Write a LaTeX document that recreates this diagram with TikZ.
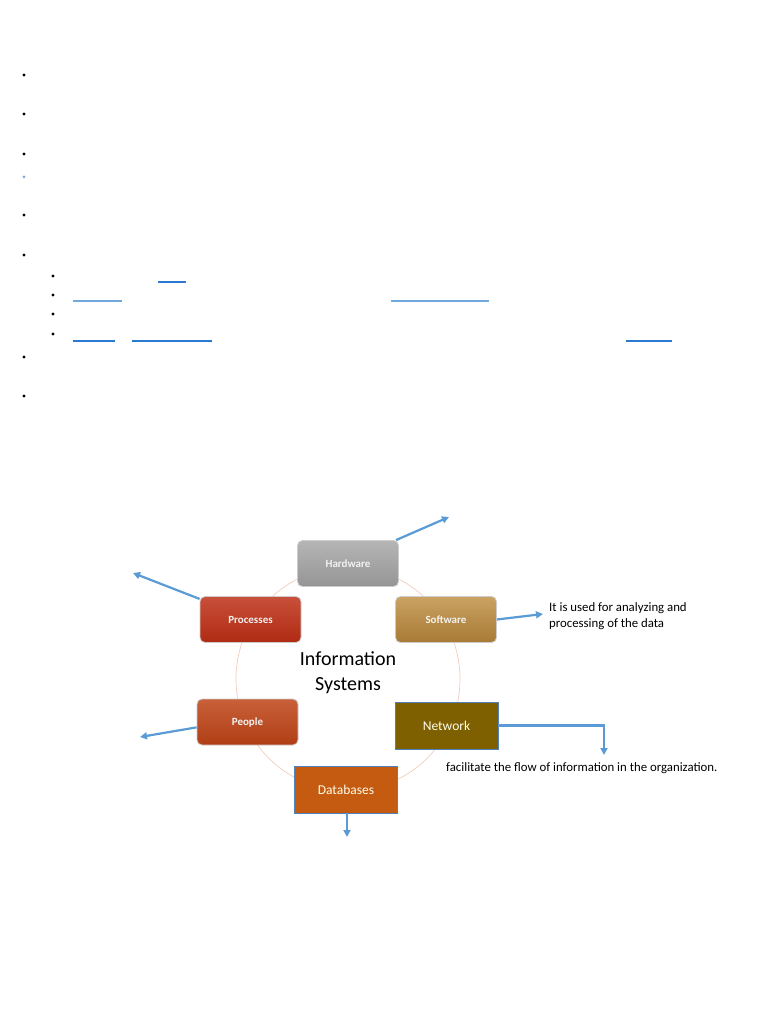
\documentclass[tikz,border=0pt]{standalone}
\usepackage{fontspec}
\setmainfont{Carlito}
\usepackage{xcolor}
\usepackage{tikz}
\usetikzlibrary{arrows.meta}
\definecolor{ArrowBlue}{HTML}{5B9BD5}
\definecolor{LinkDark}{HTML}{2A7AD2}
\definecolor{LinkLight}{HTML}{6FA8DC}
\definecolor{RingPink}{HTML}{F2CDBD}
\definecolor{NetBrown}{HTML}{7F6000}
\definecolor{DbOrange}{HTML}{C55A11}
\definecolor{EdgeBlue}{HTML}{4F81BD}
\definecolor{HwTop}{HTML}{B5B5B5}
\definecolor{HwBot}{HTML}{959595}
\definecolor{PrTop}{HTML}{C8503A}
\definecolor{PrBot}{HTML}{B02A12}
\definecolor{SwTop}{HTML}{CAA262}
\definecolor{SwBot}{HTML}{A87A34}
\definecolor{PeTop}{HTML}{C8603A}
\definecolor{PeBot}{HTML}{B03E14}

\begin{document}
\begin{tikzpicture}[
  x = 1pt, y = -1pt,
  part/.style = {
      rounded corners = 5pt, minimum width = 101pt, minimum height = 46pt,
      draw = white!80!black, line width = .8pt, text = white!95!black,
      font = \fontsize{11}{13}\selectfont\bfseries, inner sep = 0pt
  },
  flat part/.style = {
      draw = EdgeBlue, line width = .8pt, minimum width = 103pt,
      minimum height = 47pt, text = white!92!yellow,
      font = \fontsize{13.5}{16}\selectfont, inner sep = 0pt
  },
  link/.style = {ArrowBlue, line width = 2.2pt, -{Triangle[length = 7pt, width = 7pt]}},
  note/.style = {anchor = north west, align = left, inner sep = 0pt,
      font = \fontsize{12.8}{16}\selectfont}
]
  \useasboundingbox (0, 0) rectangle (768, 1024);

  % page bullets
  \foreach \y in {75, 114, 154, 215, 255, 357, 396}
  \fill (24, \y) circle (1.7);
  \fill[LinkLight] (24, 177) circle (1.5);
  \foreach \y in {276, 295, 314, 334}
  \fill (53, \y) circle (1.7);
  \begin{scope}[line width = 1.2pt]
    \draw[LinkDark] (158, 282) -- (186, 282);
    \draw[LinkLight] (73, 301) -- (122, 301);
    \draw[LinkLight] (391, 301) -- (489, 301);
    \draw[LinkDark] (73, 341) -- (115, 341);
    \draw[LinkDark] (132, 341) -- (212, 341);
    \draw[LinkDark] (626, 341) -- (672, 341);
  \end{scope}

  % ring behind the parts
  \draw[RingPink, line width = .7pt] (348, 679) circle (112);
  \node[align = center, font = \fontsize{20}{25}\selectfont] (title) at (348, 673)
    {Information\\Systems};

  \node[part, top color = HwTop, bottom color = HwBot] (hardware) at (348, 563.5) {Hardware};
  \node[part, top color = PrTop, bottom color = PrBot] (processes) at (250.5, 619.5) {Processes};
  \node[part, top color = SwTop, bottom color = SwBot] (software) at (446, 619.5) {Software};
  \node[part, top color = PeTop, bottom color = PeBot] (people) at (247.5, 722) {People};
  \node[flat part, fill = NetBrown] (network) at (446.5, 725.5) {Network};
  \node[flat part, fill = DbOrange] (databases) at (346, 789.5) {Databases};

  \coordinate (hw end) at (449, 517);
  \coordinate (sw end) at (543, 614);
  \coordinate (pr end) at (133, 573);
  \coordinate (pe end) at (140, 737);
  \coordinate (nw end) at (604, 755);
  \coordinate (db end) at (347, 837);

  \node[note] (software note) at (549, 602)
    {It is used for analyzing and\\processing of the data};
  \node[note] (network note) at (446, 762)
    {facilitate the flow of information in the organization.};

  \draw[link] (hardware.26) -- (hw end);
  \draw[link] (processes.158) -- (pr end);
  \draw[link] (software.east) -- (sw end);
  \draw[link] (people.186) -- (pe end);
  \draw[link] (network.east) -| (nw end);
  \draw[link] (databases.south -| db end) -- (db end);

\end{tikzpicture}
\end{document}
